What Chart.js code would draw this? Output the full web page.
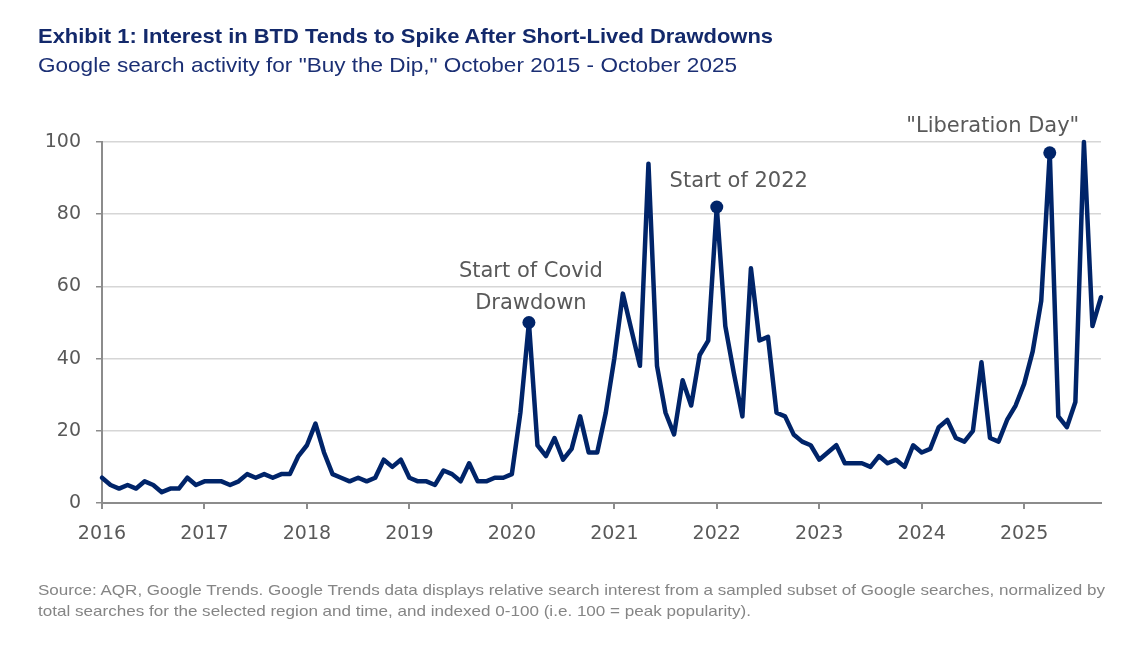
<!DOCTYPE html>
<html>
<head>
<meta charset="utf-8">
<script src="https://cdn.jsdelivr.net/npm/chart.js@4.4.1/dist/chart.umd.min.js"></script>
<style>
  html, body { margin: 0; padding: 0; background: #ffffff; }
  #wrap { position: relative; width: 1146px; height: 670px; overflow: hidden; background: #fff; }
  #c { position: absolute; left: 0; top: 0; }
  .txt { position: absolute; white-space: nowrap; display: inline-block; transform-origin: 0 0; }
  #title { left: 38px; top: 25px; font: bold 21px/21px "Liberation Sans Narrow", "Liberation Sans", Arial, sans-serif; color: #13296b; }
  #subtitle { left: 38px; top: 54px; font: 21px/21px "Liberation Sans Narrow", "Liberation Sans", Arial, sans-serif; color: #1b2f74; }
  .foot { left: 38px; font: 14.5px/15px "Liberation Sans Narrow", "Liberation Sans", Arial, sans-serif; color: #858585; }
  #foot1 { top: 583px; }
  #foot2 { top: 604px; }
</style>
</head>
<body>
<div id="wrap">
  <canvas id="c" width="1146" height="670"></canvas>
  <div id="title" class="txt">Exhibit 1: Interest in BTD Tends to Spike After Short-Lived Drawdowns</div>
  <div id="subtitle" class="txt">Google search activity for "Buy the Dip," October 2015 - October 2025</div>
  <div id="foot1" class="txt foot">Source: AQR, Google Trends. Google Trends data displays relative search interest from a sampled subset of Google searches, normalized by</div>
  <div id="foot2" class="txt foot">total searches for the selected region and time, and indexed 0-100 (i.e. 100 = peak popularity).</div>
</div>
<script>
// ---- Data ----
const startYear = 2016;
const endYear = 2025;
const endMonth = 10; // October 2025
const yearTicks = [2016, 2017, 2018, 2019, 2020, 2021, 2022, 2023, 2024, 2025];
const yTicks = [0, 20, 40, 60, 80, 100];

const interest2016 = [7, 5, 4, 5, 4, 6, 5, 3, 4, 4, 7, 5];
const interest2017 = [6, 6, 6, 5, 6, 8, 7, 8, 7, 8, 8, 13];
const interest2018 = [16, 22, 14, 8, 7, 6, 7, 6, 7, 12, 10, 12];
const interest2019 = [7, 6, 6, 5, 9, 8, 6, 11, 6, 6, 7, 7];
const interest2020 = [8, 25, 50, 16, 13, 18, 12, 15, 24, 14, 14, 25];
const interest2021 = [40, 58, 48, 38, 94, 38, 25, 19, 34, 27, 41, 45];
const interest2022 = [82, 49, 36, 24, 65, 45, 46, 25, 24, 19, 17, 16];
const interest2023 = [12, 14, 16, 11, 11, 11, 10, 13, 11, 12, 10, 16];
const interest2024 = [14, 15, 21, 23, 18, 17, 20, 39, 18, 17, 23, 27];
const interest2025 = [33, 42, 56, 97, 24, 21, 28, 100, 49, 57];

const annotationLabels = [
  { month: "2020-03", lines: ["Start of Covid", "Drawdown"] },
  { month: "2022-01", lines: ["Start of 2022"] },
  { month: "2025-04", lines: ["\"Liberation Day\""] }
];

// ---- Build ----
const interest = [].concat(interest2016, interest2017, interest2018, interest2019, interest2020,
  interest2021, interest2022, interest2023, interest2024, interest2025);
const months = [];
for (let y = startYear; y <= endYear; y++) {
  for (let m = 1; m <= 12; m++) {
    if (y === endYear && m > endMonth) break;
    months.push(y + "-" + String(m).padStart(2, "0"));
  }
}
const markedIdx = annotationLabels.map(a => months.indexOf(a.month));

const NAVY = "#002469";
const AXIS = "#8c8c8c";
const TXT = "#595959";

// annotation layout (pixel offsets from the marked point)
const annLayout = [
  { dx: 2, baselines: [-46, -13.5] },
  { dx: 22, baselines: [-20] },
  { dx: -57, baselines: [-21] }
];

const annPlugin = {
  id: "annText",
  afterDatasetsDraw(chart) {
    const ctx = chart.ctx;
    const xs = chart.scales.x, ys = chart.scales.y;
    ctx.save();
    ctx.font = '21px "DejaVu Sans", sans-serif';
    ctx.fillStyle = TXT;
    ctx.textAlign = "center";
    ctx.textBaseline = "alphabetic";
    annotationLabels.forEach((a, k) => {
      const i = markedIdx[k];
      const px = xs.getPixelForValue(i);
      const py = ys.getPixelForValue(interest[i]);
      const L = annLayout[k];
      a.lines.forEach((t, j) => ctx.fillText(t, px + L.dx, py + L.baselines[j]));
    });
    ctx.restore();
  }
};

new Chart(document.getElementById("c"), {
  type: "line",
  data: {
    labels: months,
    datasets: [{
      data: interest,
      borderColor: NAVY,
      backgroundColor: NAVY,
      borderWidth: 4.5,
      borderJoinStyle: "round",
      borderCapStyle: "round",
      tension: 0,
      clip: false,
      pointRadius: ctx => markedIdx.includes(ctx.dataIndex) ? 6.5 : 0,
      pointHoverRadius: 0,
      pointBackgroundColor: NAVY,
      pointBorderWidth: 0
    }]
  },
  options: {
    responsive: false,
    animation: false,
    events: [],
    layout: { padding: { top: 142, right: 45, bottom: 107, left: 0 } },
    plugins: { legend: { display: false }, tooltip: { enabled: false }, title: { display: false } },
    scales: {
      x: {
        type: "category",
        offset: false,
        afterBuildTicks: s => { s.ticks = s.ticks.filter(t => yearTicks.includes(+months[t.value].slice(0, 4)) && months[t.value].endsWith("-01")); },
        afterFit: s => { s.height = 60; },
        ticks: {
          autoSkip: false,
          maxRotation: 0,
          padding: 14,
          color: TXT,
          font: { family: '"DejaVu Sans", sans-serif', size: 19 },
          callback: function (v) { return months[v].slice(0, 4); }
        },
        grid: { display: true, drawOnChartArea: false, drawTicks: true, tickLength: 6, color: AXIS, tickColor: AXIS, lineWidth: 2 },
        border: { display: true, color: AXIS, width: 2 }
      },
      y: {
        min: 0,
        max: 100,
        afterBuildTicks: s => { s.ticks = yTicks.map(v => ({ value: v })); },
        afterFit: s => { s.width = 102; },
        ticks: {
          padding: 15,
          color: TXT,
          font: { family: '"DejaVu Sans", sans-serif', size: 19 }
        },
        grid: { color: "#d6d6d6", lineWidth: 1.5, tickColor: AXIS, tickLength: 6, drawTicks: true },
        border: { display: true, color: AXIS, width: 2 }
      }
    }
  },
  plugins: [annPlugin]
});

// fit text rows to the reference widths
function fit(id, w) {
  const el = document.getElementById(id);
  const nat = el.getBoundingClientRect().width;
  el.style.transform = "scaleX(" + (w / nat) + ")";
}
fit("title", 735);
fit("subtitle", 699);
fit("foot1", 1067);
fit("foot2", 713);
</script>
</body>
</html>
